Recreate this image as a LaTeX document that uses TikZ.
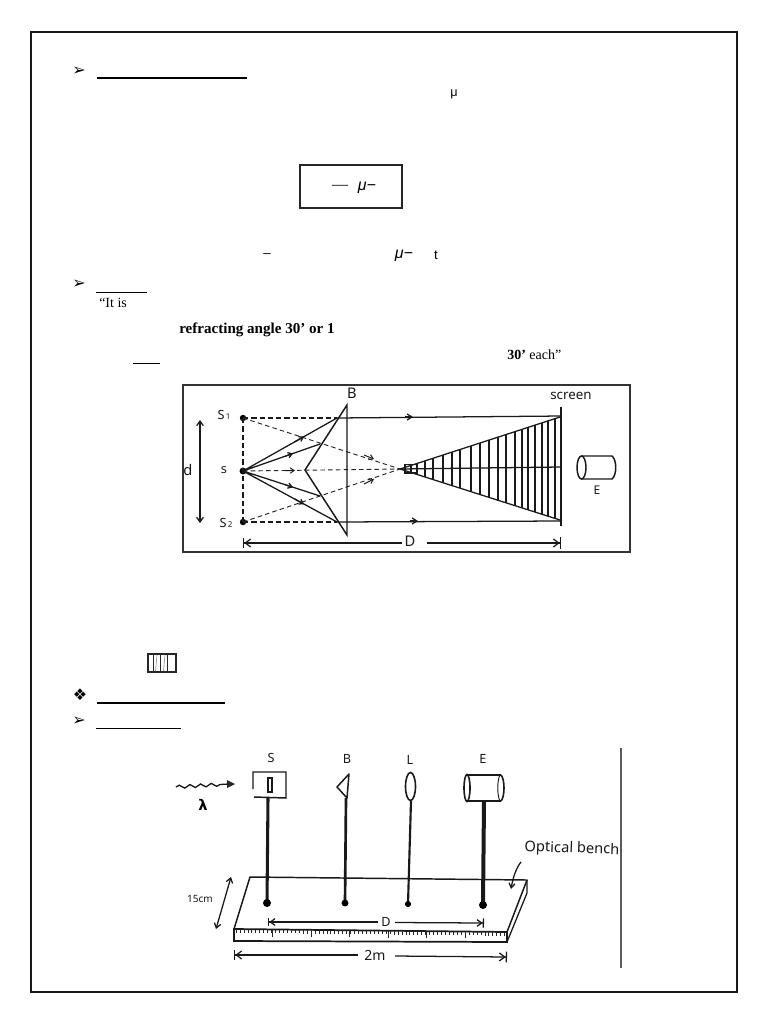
\documentclass[tikz,border=0pt]{standalone}
\usepackage{fontspec}
\setmainfont{Liberation Serif}
\newfontfamily\dejafont{DejaVu Sans}
\newfontfamily\sansfont{Liberation Sans}
\newfontfamily\handfont{Noto Sans}
\usetikzlibrary{arrows.meta,decorations.pathmorphing,calc}
\tikzset{
  txt/.style={anchor=base west,inner sep=0pt,font=\fontsize{10.5}{12}\selectfont},
  btxt/.style={txt,font=\fontsize{11.3}{12}\selectfont\bfseries},
  sym/.style={anchor=center,inner sep=0pt,font=\fontsize{12}{12}\selectfont\dejafont},
  mutxt/.style={anchor=center,inner sep=0pt,font=\fontsize{12}{12}\selectfont\sansfont\itshape},
  hand/.style={anchor=center,inner sep=0pt,font=\fontsize{9}{10}\selectfont\handfont,text=black!90},
  handb/.style={hand,font=\fontsize{9.5}{10}\selectfont\handfont\bfseries},
  ink/.style={draw=black!90,line width=0.95pt},
  dash ray/.style={draw=black!85,line width=0.7pt,dash pattern=on 3.4pt off 2.4pt},
  dash heavy/.style={draw=black!90,line width=1.1pt,dash pattern=on 4pt off 2.2pt},
  rod/.style={draw=black!90,line width=2.3pt},
  thinrod/.style={draw=black!90,line width=1.6pt},
  arr/.style={-{Straight Barb[length=3.5pt,width=4.5pt]}},
  rule/.style={draw=black,line width=0.8pt},
  mid arrow/.style={-{Straight Barb[length=3pt,width=4pt]}}
}
\begin{document}
\begin{tikzpicture}[x=0.75pt,y=-0.75pt]
\useasboundingbox (0,0) rectangle (768,1024);
\fill[white] (0,0) rectangle (768,1024);
\draw[line width=1.5pt,black!90] (31,32) rectangle (737,992);

% --- page text
\node[sym] (b1) at (79,71) {➢};
\draw[rule,line width=1.4pt] (97,78) -- (247,78);
\node[anchor=center,inner sep=0pt,font=\fontsize{9.5}{11}\selectfont\sansfont] (mu1) at (454,94) {μ};
\draw[line width=0.8pt,black!85] (300,165) rectangle (402,208);
\node[anchor=center,inner sep=0pt,font=\fontsize{12}{12}\selectfont] (eqa) at (340,187) {—};
\node[mutxt] (eqb) at (367,188) {μ−};
\node[anchor=center,inner sep=0pt,font=\fontsize{10}{12}\selectfont\sansfont] (da) at (267,256) {–};
\node[mutxt] (eqc) at (404,256) {μ−};
\node[anchor=center,inner sep=0pt,font=\fontsize{10}{12}\selectfont\sansfont] (tt) at (436,255) {t};
\node[sym] (b2) at (79,284) {➢};
\draw[rule,line width=0.6pt] (96,292) -- (147,292);
\node[txt] (itis) at (99,307) {“It is};
\node[btxt] (refr) at (179,333) {refracting angle 30’ or 1};
\draw[rule,line width=0.7pt] (133,363) -- (160,363);
\node[txt] (each) at (507,359) {\textbf{30’} each”};

% --- biprism figure
\draw[line width=0.8pt,black!80] (183,385) rectangle (630,552);
\coordinate (S1) at (243,418);
\coordinate (S) at (243,471);
\coordinate (S2) at (243,522);
\coordinate (Pt) at (347,405);
\coordinate (Pb) at (347,535);
\coordinate (Pn) at (305,470);
\coordinate (Ru) at (337,418);
\coordinate (Rl) at (337,522);
\coordinate (Qu) at (320,444);
\coordinate (Ql) at (320,496);
\coordinate (Ap) at (400,469);
\fill[black] (S1) circle (2.4pt) (S) circle (2.6pt) (S2) circle (2.4pt);
\draw[dash heavy] (S1) -- (S2);
\draw[dash heavy] (S1) -- (Ru);
\draw[dash heavy] (S2) -- (Rl);
\draw[dash ray] (S) -- (Ap);
\draw[dash ray] (S1) -- (Ap);
\draw[dash ray] (S2) -- (Ap);
\draw[ink,line width=1.1pt,line join=miter] (Pt) -- (Pn) -- (Pb) -- cycle;
\draw[ink] (S) -- (Ru) (S) -- (Qu) (S) -- (Ql) (S) -- (Rl);
\foreach \a/\b in {S/Ru,S/Qu,S/Ql,S/Rl}{
  \draw[ink,mid arrow] ($(\a)!0.55!(\b)$) -- ($(\a)!0.65!(\b)$);
}
\draw[ink,mid arrow,line width=0.7pt] (285,470.6) -- (295,470.5);
\draw[ink,mid arrow,line width=0.7pt] (364,455) -- (374,459);
\draw[ink,mid arrow,line width=0.7pt] (364,484) -- (374,479);
\draw[ink] (Ru) -- (562,416);
\draw[ink] (Rl) -- (562,521);
\draw[ink,arr] (405,417) -- (413,417);
\draw[ink,arr] (410,521) -- (418,521);
\coordinate (Sct) at (561,407);
\coordinate (Scb) at (561,526);
\draw[ink,line width=1.2pt] (Sct) -- (Scb);
\draw[ink] (Ap) -- (560,417);
\draw[ink] (Ap) -- (425,477) -- (560,520);
\draw[ink] (Ap) -- (561,467);
\draw[ink] (405,464.5) rectangle (417,473);
\draw[ink] (411,464) -- (411,473);
\foreach \x/\yt/\yb in {425/461/477,433/458/479,443/455/483,452/452/485,460/449/488,471/446/492,480/443/495,489/440/498,498/437/501,506/434/503,515/431/506,522/429/508,528/427/510,535/425/512,542/423/514,548/421/516,555/419/518}{
  \draw[draw=black!90,line width=0.95pt] (\x,\yt) -- (\x,\yb);
}
% eyepiece
\draw[ink,line width=1.1pt] (581,456) -- (612,456) .. controls (617,460) and (617,475) .. (612,479) -- (581,479);
\draw[ink,line width=1.1pt] (581.5,467.5) ellipse (4.5 and 11.5);
\node[hand] (lE) at (597,490) {E};
\node[hand,font=\fontsize{10}{10}\selectfont\handfont] (lscr) at (571,396) {screen};
\node[handb,font=\fontsize{11}{11}\selectfont\handfont] (lB) at (352,393) {B};
\node[handb] (lS1) at (224,415) {S\fontsize{6}{6}\selectfont\,1};
\node[handb] (lS) at (224,470) {s};
\node[handb] (lS2) at (226,523) {S\fontsize{6}{6}\selectfont\,2};
\node[hand,font=\fontsize{11}{11}\selectfont\handfont] (ld) at (188,470) {d};
\coordinate (da1) at (200,420);
\coordinate (da2) at (200,523);
\draw[ink,{Straight Barb[length=3.5pt,width=5pt]}-{Straight Barb[length=3.5pt,width=5pt]}] (da1) -- (da2);
\node[hand,font=\fontsize{11}{11}\selectfont\handfont] (lD) at (410,541) {D};
\coordinate (Dl) at (243,543);
\coordinate (Dm) at (402,543);
\coordinate (Dn) at (427,543);
\coordinate (Dr) at (561,543);
\draw[ink,{Bar[width=7pt,length=0pt]Straight Barb[length=4pt,width=6pt]}-] (Dl) -- (Dm);
\draw[ink,-{Straight Barb[length=4pt,width=6pt]Bar[width=9pt,length=0pt]}] (Dn) -- (Dr);

% --- section rules
\draw[draw=black!85,line width=0.8pt] (148,654) rectangle (176,672);
\foreach \x/\d in {153/0,160/0,167/0}{
  \draw[draw=black!85,line width=0.7pt] (\x,655) -- (\x+\d,671);
}
\foreach \x in {157,165}{
  \draw[draw=black!40,line width=0.5pt] (\x,655) -- (\x-1.5,671);
}
\node[sym] (b3) at (80,695) {❖};
\draw[rule,line width=1.3pt] (97,703) -- (225,703);
\node[sym] (b4) at (79,721) {➢};
\draw[rule,line width=0.7pt] (96,728) -- (181,728);

% --- optical bench
\draw[draw=black!65,line width=0.8pt] (621,748) -- (621,968);
\coordinate (Bnw) at (250,877);
\coordinate (Bne) at (527,880);
\coordinate (Bsw) at (234,929);
\coordinate (Bse) at (507,932);
\coordinate (Rsw) at (234,941);
\coordinate (Rse) at (507,942);
\draw[ink,line width=1.1pt,line join=round] (Bsw) -- (Bnw) -- (Bne) -- (Bse);
\draw[ink] (Bne) -- (527,893) -- (Rse);
\draw[ink,line width=1.3pt] (Bsw) -- (Bse) -- (Rse) -- (Rsw) -- cycle;
\foreach \i in {0,...,68}{
  \pgfmathsetmacro\xx{236+\i*3.95}
  \pgfmathsetmacro\yy{929.3+\i*0.043}
  \draw[draw=black!85,line width=0.5pt] (\xx,\yy) -- (\xx,\yy+3.5);
}
\foreach \i in {1,...,6}{
  \pgfmathsetmacro\xx{234+\i*38.5}
  \pgfmathsetmacro\yy{929.3+\i*1.1*0.3}
  \draw[draw=black!85,line width=0.6pt] (\xx,\yy) -- (\xx,\yy+7);
}
% S
\node[handb] (lbS) at (271,758) {S};
\coordinate (Stop) at (268,798);
\coordinate (Sbot) at (267,903);
\draw[ink,line width=1.1pt] (253,789) -- (253,772) -- (286,772) -- (286,798) -- (254,797);
\draw[ink,line width=1.1pt] (268,778) rectangle (272,792);
\draw[rod] (Stop) -- (Sbot);
\fill[black] (Sbot) circle (3pt);
% B
\node[handb] (lbB) at (347,759) {B};
\coordinate (Btop) at (346,798);
\coordinate (Bbot) at (345,903);
\draw[ink,line width=1.1pt,line join=round] (349,774) -- (337,787) -- (347,798) -- cycle;
\draw[rod,line width=2pt] (Btop) -- (Bbot);
\fill[black] (Bbot) circle (2.6pt);
% L
\node[handb] (lbL) at (410,760) {L};
\coordinate (Ltop) at (411,801);
\coordinate (Lbot) at (408,904);
\draw[ink,line width=1.2pt] (410.5,786.5) ellipse (5 and 14);
\draw[thinrod] (Ltop) -- (Lbot);
\fill[black] (Lbot) circle (2.3pt);
% E
\node[handb] (lbE) at (483,759) {E};
\coordinate (Etop) at (484,802);
\coordinate (Ebot) at (483,905);
\draw[ink,line width=1.2pt] (467,775) -- (501,775) (467,801) -- (501,801);
\draw[ink,line width=1.2pt] (467,788) ellipse (3 and 13.5);
\draw[ink,line width=1.2pt] (501,775) .. controls (505,779) and (505,797) .. (501,801);
\draw[ink,line width=0.7pt] (500,775) .. controls (497,780) and (497,796) .. (500,801);
\draw[rod,line width=3pt] (Etop) -- (Ebot);
\fill[black] (Ebot) circle (3pt);
% wave
\coordinate (Wa) at (176,787);
\coordinate (Wb) at (229,784);
\draw[ink,line width=1pt,decorate,decoration={snake,amplitude=1.2pt,segment length=8pt,post length=3pt}] (Wa) -- (Wb);
\fill[black!85] (227,780) -- (235,784) -- (227,788) -- cycle;
\node[anchor=center,inner sep=0pt,font=\fontsize{11}{11}\selectfont\dejafont\bfseries] (lam) at (203,805) {λ};
% dims
\node[hand,font=\fontsize{7.5}{8}\selectfont\handfont] (l15) at (200,899) {15cm};
\coordinate (da3) at (231,877);
\coordinate (da4) at (216,929);
\draw[ink,{Straight Barb[length=3.5pt,width=5pt]}-{Straight Barb[length=3.5pt,width=5pt]}] (da3) -- (da4);
\node[handb] (lD2) at (386,922) {D};
\coordinate (d2l) at (268,922);
\coordinate (d2m) at (378,922);
\coordinate (d2n) at (395,922.5);
\coordinate (d2r) at (484,923);
\draw[ink,{Bar[width=6pt,length=0pt]Straight Barb[length=3.5pt,width=5pt]}-] (d2l) -- (d2m);
\draw[ink,-{Straight Barb[length=3.5pt,width=5pt]Bar[width=7pt,length=0pt]}] (d2n) -- (d2r);
\node[hand,font=\fontsize{10.5}{11}\selectfont\handfont] (l2m) at (375,955) {2m};
\coordinate (m2l) at (234,955);
\coordinate (m2m) at (358,955);
\coordinate (m2n) at (395,956);
\coordinate (m2r) at (507,957);
\draw[ink,{Bar[width=8pt,length=0pt]Straight Barb[length=4pt,width=6pt]}-] (m2l) -- (m2m);
\draw[ink,-{Straight Barb[length=4pt,width=6pt]Bar[width=8pt,length=0pt]}] (m2n) -- (m2r);
\node[hand,font=\fontsize{11}{11}\selectfont\handfont,rotate=-2] (lOB) at (572,849) {Optical bench};
\coordinate (obs) at (521,862);
\coordinate (obe) at (511,889);
\draw[ink,arr] (obs) .. controls (516,868) and (513,878) .. (obe);
\end{tikzpicture}
\end{document}
